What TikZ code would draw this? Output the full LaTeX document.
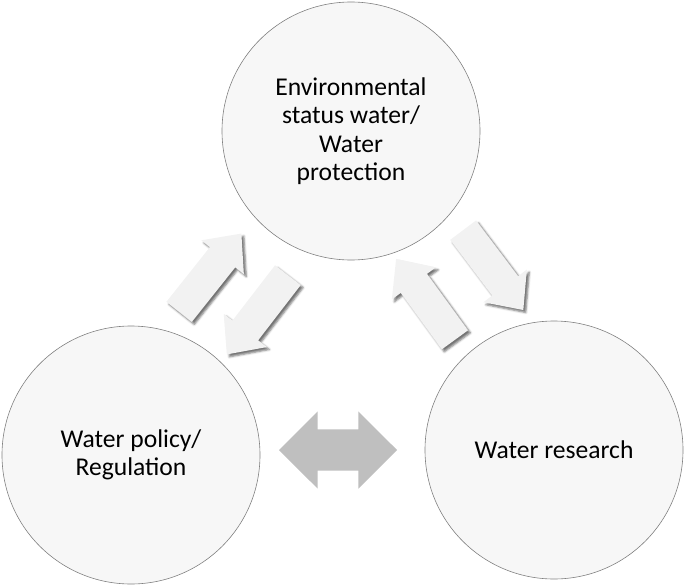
\documentclass[tikz,border=0pt]{standalone}
\usepackage{fontspec}
\setmainfont{Carlito}
\usetikzlibrary{shapes.arrows,shadows.blur}
\definecolor{circlefill}{HTML}{F7F7F7}
\definecolor{circleline}{HTML}{808080}
\definecolor{arrowfill}{HTML}{F2F2F2}
\definecolor{linkfill}{HTML}{BFBFBF}
\begin{document}
\begin{tikzpicture}[x=1pt, y=-1pt,
    topic/.style={circle, draw=circleline, line width=0.6pt, fill=circlefill,
        minimum size=258pt, inner sep=0pt, align=center,
        font=\fontsize{25.6}{28.5}\selectfont},
    flow/.style={single arrow, fill=arrowfill, minimum height=100pt,
        inner xsep=0pt, inner ysep=16pt, text height=0pt, text depth=0pt,
        single arrow head extend=11pt, single arrow tip angle=84,
        blur shadow={shadow xshift=2.5pt, shadow yshift=-2.5pt,
            shadow blur radius=2pt, shadow opacity=55}},
    link/.style={double arrow, fill=linkfill, minimum height=118pt,
        inner xsep=0pt, inner ysep=20.5pt, text height=0pt, text depth=0pt,
        double arrow head extend=18pt, double arrow tip angle=90}]
    \useasboundingbox (0,0) rectangle (685,586);

    % Circles
    \node[topic] (env) at (351,131) {Environmental\\status water/\\Water\\protection};
    \node[topic] (policy) at (131,455) {Water policy/\\Regulation};
    \node[topic] (research) at (554,450) {Water research};

    % Policy <-> environment
    \node[flow, rotate=51.5, anchor=tail] (polenv) at (179,312) {};
    \node[flow, rotate=232.4, anchor=tail] (envpol) at (288,275) {};

    % Research <-> environment
    \node[flow, rotate=126, anchor=tail] (resenv) at (455,340) {};
    \node[flow, rotate=-53, anchor=tail] (envres) at (463,230) {};

    % Policy <-> research
    \node[link] (polres) at (338,450) {};
\end{tikzpicture}
\end{document}
